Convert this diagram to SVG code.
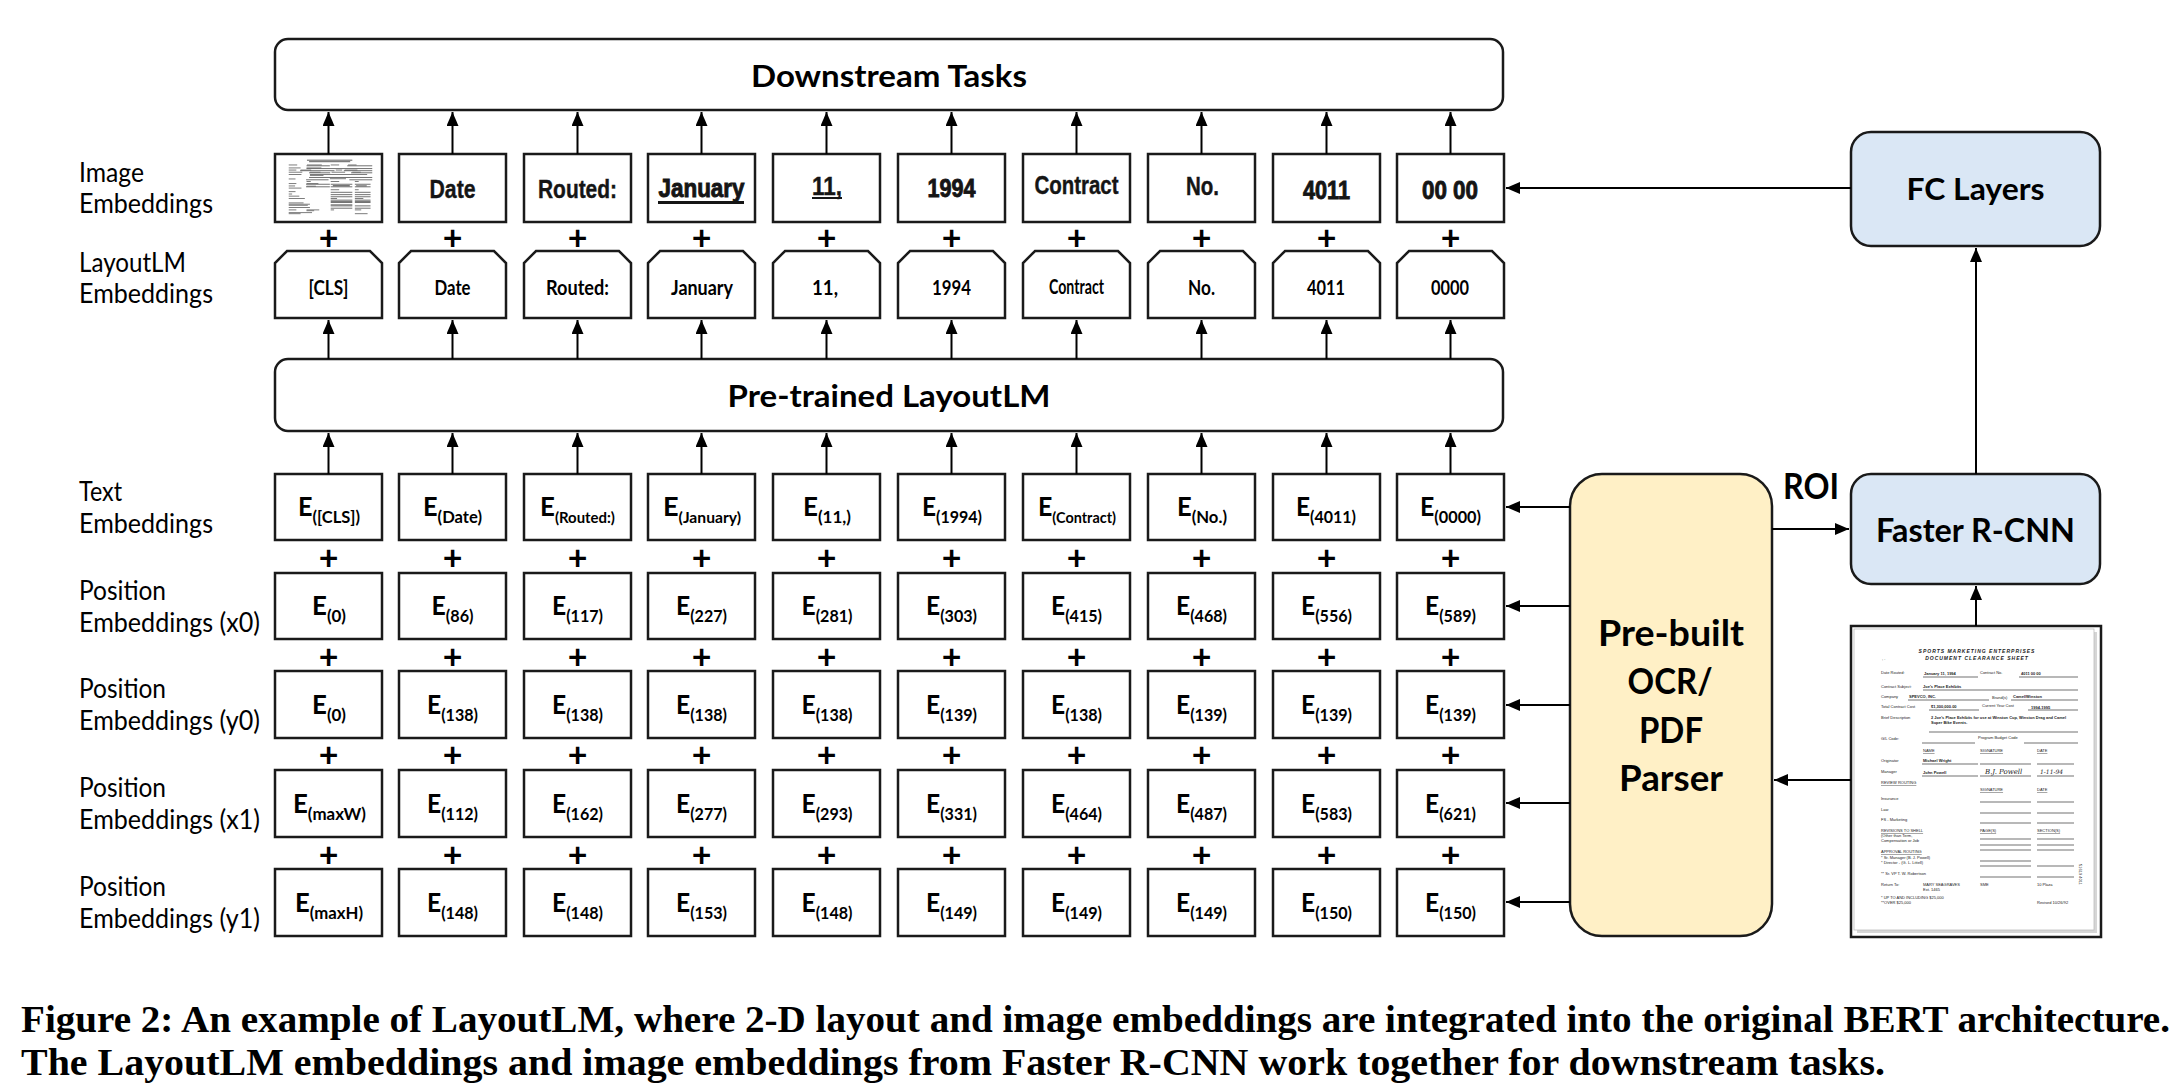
<svg xmlns="http://www.w3.org/2000/svg" xmlns:xlink="http://www.w3.org/1999/xlink" width="2178" height="1092" viewBox="0 0 2178 1092">
<defs>
<style>
.box{fill:#fff;stroke:#1a1a1a;stroke-width:2.5}
.rbox{stroke:#1a1a1a;stroke-width:2.5}
.lbl{font-family:Lato,'Open Sans',sans-serif;font-size:26px;fill:#000}
.big{font-family:Lato,'Open Sans',sans-serif;font-weight:700;fill:#000;text-anchor:middle}
.img{font-family:'Liberation Sans',Arial,sans-serif;font-weight:700;font-size:25px;fill:#151515;text-anchor:middle}
.hv{stroke:#151515;stroke-width:0.9}
.md{stroke:#151515;stroke-width:0.4}
.lm{font-family:Lato,'Open Sans',sans-serif;font-weight:700;font-size:20px;fill:#000;text-anchor:middle}
.e{font-family:Lato,'Open Sans',sans-serif;font-weight:700;font-size:26px;fill:#000;text-anchor:middle}
.s{font-size:17px}
.ss{font-size:15px}
.plus{font-family:Lato,'Open Sans',sans-serif;font-weight:700;font-size:34px;fill:#000;text-anchor:middle}
.cap{font-family:'Liberation Serif','Times New Roman',serif;font-weight:700;font-size:38px;fill:#000}
.con{stroke:#000;stroke-width:2;fill:none;marker-end:url(#ah)}
.d{font-family:'Liberation Sans',Arial,sans-serif;font-size:4px;fill:#222}
.dh{font-family:'Liberation Sans',Arial,sans-serif;font-size:5px;font-weight:700;font-style:italic;fill:#222;text-anchor:middle;letter-spacing:1px}
.dl{stroke:#333;stroke-width:0.7;vector-effect:non-scaling-stroke;fill:none}
.blob{fill:#666}
</style>
<marker id="ah" viewBox="0 0 14 12" refX="14" refY="6" markerWidth="14" markerHeight="12" markerUnits="userSpaceOnUse" orient="auto">
<path d="M0,0 L14,6 L0,12 z" fill="#000"/>
</marker>
<g id="docLines">
<path class="dl" d="M1923,677H1978M2019,677H2078M1923,690H2078M1908,700H1989M2011,700H2078M1929,710H1979M2028,710H2078M1929,732H2078M1922,743H1975M2024,743H2078M1922,764H1978M1980,764H2031M2037,764H2074M1922,776H1978M1980,776H2031M2037,776H2074M1980,802H2031M2037,802H2074M1980,813H2031M2037,813H2074M1980,823H2031M2037,823H2074M1980,839H2031M2037,839H2074M1980,845H2031M2037,845H2074M1980,850H2031M2037,850H2074M1980,861H2031M1980,866H2031M2037,866H2074M1980,877H2031M2037,877H2074"/>
</g>
<g id="docBlobs">
<rect class="blob" x="1924" y="648" width="107" height="5"/><rect class="blob" x="1929" y="655" width="97" height="5"/>
<rect class="blob" x="1881" y="671" width="20" height="4"/><rect class="blob" x="1924" y="671" width="35" height="4"/><rect class="blob" x="1980" y="671" width="20" height="4"/><rect class="blob" x="2021" y="671" width="20" height="4"/>
<rect class="blob" x="1881" y="685" width="28" height="4"/><rect class="blob" x="1923" y="685" width="35" height="4"/>
<rect class="blob" x="1881" y="695" width="18" height="4"/><rect class="blob" x="1909" y="695" width="25" height="4"/><rect class="blob" x="1992" y="695" width="15" height="4"/><rect class="blob" x="2013" y="695" width="30" height="4"/>
<rect class="blob" x="1881" y="705" width="32" height="4"/><rect class="blob" x="1931" y="705" width="25" height="4"/><rect class="blob" x="1982" y="705" width="32" height="4"/><rect class="blob" x="2031" y="705" width="20" height="4"/>
<rect class="blob" x="1881" y="716" width="30" height="4"/><rect class="blob" x="1931" y="716" width="135" height="4"/><rect class="blob" x="1931" y="720" width="32" height="4"/>
<rect class="blob" x="1881" y="737" width="16" height="4"/><rect class="blob" x="1978" y="736" width="38" height="4"/>
<rect class="blob" x="1923" y="749" width="10" height="4"/><rect class="blob" x="1980" y="749" width="20" height="4"/><rect class="blob" x="2037" y="749" width="9" height="4"/>
<rect class="blob" x="1881" y="759" width="18" height="4"/><rect class="blob" x="1923" y="759" width="28" height="4"/>
<rect class="blob" x="1881" y="770" width="15" height="4"/><rect class="blob" x="1923" y="771" width="22" height="4"/><rect class="blob" x="1985" y="768" width="40" height="6"/><rect class="blob" x="2040" y="769" width="25" height="5"/>
<rect class="blob" x="1881" y="780" width="30" height="4"/><rect class="blob" x="1980" y="788" width="20" height="4"/><rect class="blob" x="2037" y="788" width="9" height="4"/>
<rect class="blob" x="1881" y="797" width="16" height="4"/><rect class="blob" x="1881" y="808" width="8" height="4"/><rect class="blob" x="1881" y="818" width="25" height="4"/>
<rect class="blob" x="1881" y="829" width="38" height="4"/><rect class="blob" x="1980" y="829" width="15" height="4"/><rect class="blob" x="2037" y="829" width="20" height="4"/>
<rect class="blob" x="1881" y="850" width="35" height="4"/><rect class="blob" x="1881" y="856" width="50" height="4"/><rect class="blob" x="1881" y="861" width="45" height="4"/><rect class="blob" x="1881" y="872" width="50" height="4"/>
<rect class="blob" x="1881" y="883" width="18" height="4"/><rect class="blob" x="1923" y="883" width="30" height="4"/><rect class="blob" x="1923" y="887" width="18" height="4"/><rect class="blob" x="1980" y="883" width="8" height="4"/><rect class="blob" x="2037" y="883" width="15" height="4"/>
<rect class="blob" x="1881" y="896" width="55" height="4"/><rect class="blob" x="1881" y="901" width="28" height="4"/><rect class="blob" x="2037" y="901" width="30" height="4"/>
</g>
</defs>

<rect width="2178" height="1092" fill="#fff"/>

<g id="row-labels">
<text class="lbl" x="79" y="182" textLength="65" lengthAdjust="spacingAndGlyphs">Image</text>
<text class="lbl" x="79" y="213" textLength="134" lengthAdjust="spacingAndGlyphs">Embeddings</text>
<text class="lbl" x="79" y="272" textLength="107" lengthAdjust="spacingAndGlyphs">LayoutLM</text>
<text class="lbl" x="79" y="303" textLength="134" lengthAdjust="spacingAndGlyphs">Embeddings</text>
<text class="lbl" x="79" y="501" textLength="43" lengthAdjust="spacingAndGlyphs">Text</text>
<text class="lbl" x="79" y="533" textLength="134" lengthAdjust="spacingAndGlyphs">Embeddings</text>
<text class="lbl" x="79" y="600" textLength="87" lengthAdjust="spacingAndGlyphs">Position</text>
<text class="lbl" x="79" y="632" textLength="181" lengthAdjust="spacingAndGlyphs">Embeddings (x0)</text>
<text class="lbl" x="79" y="698" textLength="87" lengthAdjust="spacingAndGlyphs">Position</text>
<text class="lbl" x="79" y="730" textLength="181" lengthAdjust="spacingAndGlyphs">Embeddings (y0)</text>
<text class="lbl" x="79" y="797" textLength="87" lengthAdjust="spacingAndGlyphs">Position</text>
<text class="lbl" x="79" y="829" textLength="181" lengthAdjust="spacingAndGlyphs">Embeddings (x1)</text>
<text class="lbl" x="79" y="896" textLength="87" lengthAdjust="spacingAndGlyphs">Position</text>
<text class="lbl" x="79" y="928" textLength="181" lengthAdjust="spacingAndGlyphs">Embeddings (y1)</text>
</g>

<g id="downstream-tasks">
<rect class="box" x="275" y="39" width="1228" height="71" rx="13"/>
<text class="big" x="889" y="87" font-size="31" textLength="276" lengthAdjust="spacingAndGlyphs">Downstream Tasks</text>
</g>

<g id="pretrained-layoutlm">
<rect class="box" x="275" y="359" width="1228" height="72" rx="13"/>
<text class="big" x="889" y="407" font-size="31" textLength="323" lengthAdjust="spacingAndGlyphs">Pre-trained LayoutLM</text>
</g>

<!-- Image embeddings -->
<g id="img-0">
<rect class="box" x="275" y="154" width="107" height="68"/>
<use xlink:href="#docLines" href="#docLines" transform="translate(276,155) scale(0.424,0.212) translate(-1851,-626)"/>
<use xlink:href="#docBlobs" href="#docBlobs" transform="translate(276,155) scale(0.424,0.212) translate(-1851,-626)"/>
</g>
<g id="img-1"><rect class="box" x="399" y="154" width="107" height="68"/><text class="img md" x="452.5" y="198" textLength="46" lengthAdjust="spacingAndGlyphs">Date</text></g>
<g id="img-2"><rect class="box" x="524" y="154" width="107" height="68"/><text class="img md" x="577.5" y="198" textLength="79" lengthAdjust="spacingAndGlyphs">Routed:</text></g>
<g id="img-3"><rect class="box" x="648" y="154" width="107" height="68"/><text class="img hv" x="701.5" y="197" textLength="86" lengthAdjust="spacingAndGlyphs">January</text><rect x="658" y="201" width="86" height="3" fill="#151515"/></g>
<g id="img-4"><rect class="box" x="773" y="154" width="107" height="68"/><text class="img md" x="827" y="195" textLength="30" lengthAdjust="spacingAndGlyphs">11,</text><rect x="812" y="197" width="30" height="2" fill="#151515"/></g>
<g id="img-5"><rect class="box" x="898" y="154" width="107" height="68"/><text class="img hv" x="951.5" y="197" textLength="48" lengthAdjust="spacingAndGlyphs">1994</text></g>
<g id="img-6"><rect class="box" x="1023" y="154" width="107" height="68"/><text class="img md" x="1076.5" y="194" textLength="84" lengthAdjust="spacingAndGlyphs">Contract</text></g>
<g id="img-7"><rect class="box" x="1148" y="154" width="107" height="68"/><text class="img md" x="1202.5" y="195" textLength="33" lengthAdjust="spacingAndGlyphs">No.</text></g>
<g id="img-8"><rect class="box" x="1273" y="154" width="107" height="68"/><text class="img hv" x="1326.5" y="199" textLength="47" lengthAdjust="spacingAndGlyphs">4011</text></g>
<g id="img-9"><rect class="box" x="1397" y="154" width="107" height="68"/><text class="img hv" x="1450" y="199" textLength="56" lengthAdjust="spacingAndGlyphs">00 00</text></g>

<!-- LayoutLM embeddings -->
<g id="lm-0"><path class="box" d="M275,318V263L287,251H370L382,263V318Z"/><text class="lm" x="328.5" y="295" textLength="40" lengthAdjust="spacingAndGlyphs">[CLS]</text></g>
<g id="lm-1"><path class="box" d="M399,318V263L411,251H494L506,263V318Z"/><text class="lm" x="452.5" y="295" textLength="36" lengthAdjust="spacingAndGlyphs">Date</text></g>
<g id="lm-2"><path class="box" d="M524,318V263L536,251H619L631,263V318Z"/><text class="lm" x="577.5" y="295" textLength="63" lengthAdjust="spacingAndGlyphs">Routed:</text></g>
<g id="lm-3"><path class="box" d="M648,318V263L660,251H743L755,263V318Z"/><text class="lm" x="702" y="295" textLength="62" lengthAdjust="spacingAndGlyphs">January</text></g>
<g id="lm-4"><path class="box" d="M773,318V263L785,251H868L880,263V318Z"/><text class="lm" x="825" y="295" textLength="26" lengthAdjust="spacingAndGlyphs">11,</text></g>
<g id="lm-5"><path class="box" d="M898,318V263L910,251H993L1005,263V318Z"/><text class="lm" x="951.5" y="295" textLength="39" lengthAdjust="spacingAndGlyphs">1994</text></g>
<g id="lm-6"><path class="box" d="M1023,318V263L1035,251H1118L1130,263V318Z"/><text class="lm" x="1076.5" y="294" font-size="16" textLength="55" lengthAdjust="spacingAndGlyphs">Contract</text></g>
<g id="lm-7"><path class="box" d="M1148,318V263L1160,251H1243L1255,263V318Z"/><text class="lm" x="1201.5" y="295" textLength="27" lengthAdjust="spacingAndGlyphs">No.</text></g>
<g id="lm-8"><path class="box" d="M1273,318V263L1285,251H1368L1380,263V318Z"/><text class="lm" x="1326" y="295" textLength="38" lengthAdjust="spacingAndGlyphs">4011</text></g>
<g id="lm-9"><path class="box" d="M1397,318V263L1409,251H1492L1504,263V318Z"/><text class="lm" x="1450" y="295" textLength="38" lengthAdjust="spacingAndGlyphs">0000</text></g>

<!-- Text embeddings -->
<g id="txt-0"><rect class="box" x="275" y="474" width="107" height="66"/><text class="e" x="329" y="516" textLength="62" lengthAdjust="spacingAndGlyphs">E<tspan class="s" dy="7">([CLS])</tspan></text></g>
<g id="txt-1"><rect class="box" x="399" y="474" width="107" height="66"/><text class="e" x="452.5" y="516" textLength="59" lengthAdjust="spacingAndGlyphs">E<tspan class="s" dy="7">(Date)</tspan></text></g>
<g id="txt-2"><rect class="box" x="524" y="474" width="107" height="66"/><text class="e" x="577.5" y="516" textLength="75" lengthAdjust="spacingAndGlyphs">E<tspan class="ss" dy="7">(Routed:)</tspan></text></g>
<g id="txt-3"><rect class="box" x="648" y="474" width="107" height="66"/><text class="e" x="702" y="516" textLength="78" lengthAdjust="spacingAndGlyphs">E<tspan class="ss" dy="7">(January)</tspan></text></g>
<g id="txt-4"><rect class="box" x="773" y="474" width="107" height="66"/><text class="e" x="827" y="516" textLength="48" lengthAdjust="spacingAndGlyphs">E<tspan class="s" dy="7">(11,)</tspan></text></g>
<g id="txt-5"><rect class="box" x="898" y="474" width="107" height="66"/><text class="e" x="952" y="516" textLength="60" lengthAdjust="spacingAndGlyphs">E<tspan class="s" dy="7">(1994)</tspan></text></g>
<g id="txt-6"><rect class="box" x="1023" y="474" width="107" height="66"/><text class="e" x="1077" y="516" textLength="78" lengthAdjust="spacingAndGlyphs">E<tspan class="ss" dy="7">(Contract)</tspan></text></g>
<g id="txt-7"><rect class="box" x="1148" y="474" width="107" height="66"/><text class="e" x="1202" y="516" textLength="50" lengthAdjust="spacingAndGlyphs">E<tspan class="s" dy="7">(No.)</tspan></text></g>
<g id="txt-8"><rect class="box" x="1273" y="474" width="107" height="66"/><text class="e" x="1326" y="516" textLength="60" lengthAdjust="spacingAndGlyphs">E<tspan class="s" dy="7">(4011)</tspan></text></g>
<g id="txt-9"><rect class="box" x="1397" y="474" width="107" height="66"/><text class="e" x="1450.5" y="516" textLength="61" lengthAdjust="spacingAndGlyphs">E<tspan class="s" dy="7">(0000)</tspan></text></g>

<!-- Position embeddings x0 -->
<g id="x0-0"><rect class="box" x="275" y="573" width="107" height="66"/><text class="e" x="329" y="615" textLength="34" lengthAdjust="spacingAndGlyphs">E<tspan class="s" dy="7">(0)</tspan></text></g>
<g id="x0-1"><rect class="box" x="399" y="573" width="107" height="66"/><text class="e" x="452.5" y="615" textLength="42" lengthAdjust="spacingAndGlyphs">E<tspan class="s" dy="7">(86)</tspan></text></g>
<g id="x0-2"><rect class="box" x="524" y="573" width="107" height="66"/><text class="e" x="577.5" y="615" textLength="51" lengthAdjust="spacingAndGlyphs">E<tspan class="s" dy="7">(117)</tspan></text></g>
<g id="x0-3"><rect class="box" x="648" y="573" width="107" height="66"/><text class="e" x="701.5" y="615" textLength="51" lengthAdjust="spacingAndGlyphs">E<tspan class="s" dy="7">(227)</tspan></text></g>
<g id="x0-4"><rect class="box" x="773" y="573" width="107" height="66"/><text class="e" x="827" y="615" textLength="51" lengthAdjust="spacingAndGlyphs">E<tspan class="s" dy="7">(281)</tspan></text></g>
<g id="x0-5"><rect class="box" x="898" y="573" width="107" height="66"/><text class="e" x="951.5" y="615" textLength="51" lengthAdjust="spacingAndGlyphs">E<tspan class="s" dy="7">(303)</tspan></text></g>
<g id="x0-6"><rect class="box" x="1023" y="573" width="107" height="66"/><text class="e" x="1076.5" y="615" textLength="51" lengthAdjust="spacingAndGlyphs">E<tspan class="s" dy="7">(415)</tspan></text></g>
<g id="x0-7"><rect class="box" x="1148" y="573" width="107" height="66"/><text class="e" x="1201.5" y="615" textLength="51" lengthAdjust="spacingAndGlyphs">E<tspan class="s" dy="7">(468)</tspan></text></g>
<g id="x0-8"><rect class="box" x="1273" y="573" width="107" height="66"/><text class="e" x="1326.5" y="615" textLength="51" lengthAdjust="spacingAndGlyphs">E<tspan class="s" dy="7">(556)</tspan></text></g>
<g id="x0-9"><rect class="box" x="1397" y="573" width="107" height="66"/><text class="e" x="1450.5" y="615" textLength="51" lengthAdjust="spacingAndGlyphs">E<tspan class="s" dy="7">(589)</tspan></text></g>

<!-- Position embeddings y0 -->
<g id="y0-0"><rect class="box" x="275" y="671" width="107" height="67"/><text class="e" x="329" y="714" textLength="34" lengthAdjust="spacingAndGlyphs">E<tspan class="s" dy="7">(0)</tspan></text></g>
<g id="y0-1"><rect class="box" x="399" y="671" width="107" height="67"/><text class="e" x="452.5" y="714" textLength="51" lengthAdjust="spacingAndGlyphs">E<tspan class="s" dy="7">(138)</tspan></text></g>
<g id="y0-2"><rect class="box" x="524" y="671" width="107" height="67"/><text class="e" x="577.5" y="714" textLength="51" lengthAdjust="spacingAndGlyphs">E<tspan class="s" dy="7">(138)</tspan></text></g>
<g id="y0-3"><rect class="box" x="648" y="671" width="107" height="67"/><text class="e" x="701.5" y="714" textLength="51" lengthAdjust="spacingAndGlyphs">E<tspan class="s" dy="7">(138)</tspan></text></g>
<g id="y0-4"><rect class="box" x="773" y="671" width="107" height="67"/><text class="e" x="827" y="714" textLength="51" lengthAdjust="spacingAndGlyphs">E<tspan class="s" dy="7">(138)</tspan></text></g>
<g id="y0-5"><rect class="box" x="898" y="671" width="107" height="67"/><text class="e" x="951.5" y="714" textLength="51" lengthAdjust="spacingAndGlyphs">E<tspan class="s" dy="7">(139)</tspan></text></g>
<g id="y0-6"><rect class="box" x="1023" y="671" width="107" height="67"/><text class="e" x="1076.5" y="714" textLength="51" lengthAdjust="spacingAndGlyphs">E<tspan class="s" dy="7">(138)</tspan></text></g>
<g id="y0-7"><rect class="box" x="1148" y="671" width="107" height="67"/><text class="e" x="1201.5" y="714" textLength="51" lengthAdjust="spacingAndGlyphs">E<tspan class="s" dy="7">(139)</tspan></text></g>
<g id="y0-8"><rect class="box" x="1273" y="671" width="107" height="67"/><text class="e" x="1326.5" y="714" textLength="51" lengthAdjust="spacingAndGlyphs">E<tspan class="s" dy="7">(139)</tspan></text></g>
<g id="y0-9"><rect class="box" x="1397" y="671" width="107" height="67"/><text class="e" x="1450.5" y="714" textLength="51" lengthAdjust="spacingAndGlyphs">E<tspan class="s" dy="7">(139)</tspan></text></g>

<!-- Position embeddings x1 -->
<g id="x1-0"><rect class="box" x="275" y="770" width="107" height="67"/><text class="e" x="329.5" y="813" textLength="73" lengthAdjust="spacingAndGlyphs">E<tspan class="s" dy="7">(maxW)</tspan></text></g>
<g id="x1-1"><rect class="box" x="399" y="770" width="107" height="67"/><text class="e" x="452.5" y="813" textLength="51" lengthAdjust="spacingAndGlyphs">E<tspan class="s" dy="7">(112)</tspan></text></g>
<g id="x1-2"><rect class="box" x="524" y="770" width="107" height="67"/><text class="e" x="577.5" y="813" textLength="51" lengthAdjust="spacingAndGlyphs">E<tspan class="s" dy="7">(162)</tspan></text></g>
<g id="x1-3"><rect class="box" x="648" y="770" width="107" height="67"/><text class="e" x="701.5" y="813" textLength="51" lengthAdjust="spacingAndGlyphs">E<tspan class="s" dy="7">(277)</tspan></text></g>
<g id="x1-4"><rect class="box" x="773" y="770" width="107" height="67"/><text class="e" x="827" y="813" textLength="51" lengthAdjust="spacingAndGlyphs">E<tspan class="s" dy="7">(293)</tspan></text></g>
<g id="x1-5"><rect class="box" x="898" y="770" width="107" height="67"/><text class="e" x="951.5" y="813" textLength="51" lengthAdjust="spacingAndGlyphs">E<tspan class="s" dy="7">(331)</tspan></text></g>
<g id="x1-6"><rect class="box" x="1023" y="770" width="107" height="67"/><text class="e" x="1076.5" y="813" textLength="51" lengthAdjust="spacingAndGlyphs">E<tspan class="s" dy="7">(464)</tspan></text></g>
<g id="x1-7"><rect class="box" x="1148" y="770" width="107" height="67"/><text class="e" x="1201.5" y="813" textLength="51" lengthAdjust="spacingAndGlyphs">E<tspan class="s" dy="7">(487)</tspan></text></g>
<g id="x1-8"><rect class="box" x="1273" y="770" width="107" height="67"/><text class="e" x="1326.5" y="813" textLength="51" lengthAdjust="spacingAndGlyphs">E<tspan class="s" dy="7">(583)</tspan></text></g>
<g id="x1-9"><rect class="box" x="1397" y="770" width="107" height="67"/><text class="e" x="1450.5" y="813" textLength="51" lengthAdjust="spacingAndGlyphs">E<tspan class="s" dy="7">(621)</tspan></text></g>

<!-- Position embeddings y1 -->
<g id="y1-0"><rect class="box" x="275" y="869" width="107" height="67"/><text class="e" x="329" y="912" textLength="68" lengthAdjust="spacingAndGlyphs">E<tspan class="s" dy="7">(maxH)</tspan></text></g>
<g id="y1-1"><rect class="box" x="399" y="869" width="107" height="67"/><text class="e" x="452.5" y="912" textLength="51" lengthAdjust="spacingAndGlyphs">E<tspan class="s" dy="7">(148)</tspan></text></g>
<g id="y1-2"><rect class="box" x="524" y="869" width="107" height="67"/><text class="e" x="577.5" y="912" textLength="51" lengthAdjust="spacingAndGlyphs">E<tspan class="s" dy="7">(148)</tspan></text></g>
<g id="y1-3"><rect class="box" x="648" y="869" width="107" height="67"/><text class="e" x="701.5" y="912" textLength="51" lengthAdjust="spacingAndGlyphs">E<tspan class="s" dy="7">(153)</tspan></text></g>
<g id="y1-4"><rect class="box" x="773" y="869" width="107" height="67"/><text class="e" x="827" y="912" textLength="51" lengthAdjust="spacingAndGlyphs">E<tspan class="s" dy="7">(148)</tspan></text></g>
<g id="y1-5"><rect class="box" x="898" y="869" width="107" height="67"/><text class="e" x="951.5" y="912" textLength="51" lengthAdjust="spacingAndGlyphs">E<tspan class="s" dy="7">(149)</tspan></text></g>
<g id="y1-6"><rect class="box" x="1023" y="869" width="107" height="67"/><text class="e" x="1076.5" y="912" textLength="51" lengthAdjust="spacingAndGlyphs">E<tspan class="s" dy="7">(149)</tspan></text></g>
<g id="y1-7"><rect class="box" x="1148" y="869" width="107" height="67"/><text class="e" x="1201.5" y="912" textLength="51" lengthAdjust="spacingAndGlyphs">E<tspan class="s" dy="7">(149)</tspan></text></g>
<g id="y1-8"><rect class="box" x="1273" y="869" width="107" height="67"/><text class="e" x="1326.5" y="912" textLength="51" lengthAdjust="spacingAndGlyphs">E<tspan class="s" dy="7">(150)</tspan></text></g>
<g id="y1-9"><rect class="box" x="1397" y="869" width="107" height="67"/><text class="e" x="1450.5" y="912" textLength="51" lengthAdjust="spacingAndGlyphs">E<tspan class="s" dy="7">(150)</tspan></text></g>

<g id="plus-signs">
<text class="plus" x="328.5" y="250">+</text><text class="plus" x="452.5" y="250">+</text><text class="plus" x="577.5" y="250">+</text><text class="plus" x="701.5" y="250">+</text><text class="plus" x="826.5" y="250">+</text><text class="plus" x="951.5" y="250">+</text><text class="plus" x="1076.5" y="250">+</text><text class="plus" x="1201.5" y="250">+</text><text class="plus" x="1326.5" y="250">+</text><text class="plus" x="1450.5" y="250">+</text>
<text class="plus" x="328.5" y="570">+</text><text class="plus" x="452.5" y="570">+</text><text class="plus" x="577.5" y="570">+</text><text class="plus" x="701.5" y="570">+</text><text class="plus" x="826.5" y="570">+</text><text class="plus" x="951.5" y="570">+</text><text class="plus" x="1076.5" y="570">+</text><text class="plus" x="1201.5" y="570">+</text><text class="plus" x="1326.5" y="570">+</text><text class="plus" x="1450.5" y="570">+</text>
<text class="plus" x="328.5" y="669">+</text><text class="plus" x="452.5" y="669">+</text><text class="plus" x="577.5" y="669">+</text><text class="plus" x="701.5" y="669">+</text><text class="plus" x="826.5" y="669">+</text><text class="plus" x="951.5" y="669">+</text><text class="plus" x="1076.5" y="669">+</text><text class="plus" x="1201.5" y="669">+</text><text class="plus" x="1326.5" y="669">+</text><text class="plus" x="1450.5" y="669">+</text>
<text class="plus" x="328.5" y="767">+</text><text class="plus" x="452.5" y="767">+</text><text class="plus" x="577.5" y="767">+</text><text class="plus" x="701.5" y="767">+</text><text class="plus" x="826.5" y="767">+</text><text class="plus" x="951.5" y="767">+</text><text class="plus" x="1076.5" y="767">+</text><text class="plus" x="1201.5" y="767">+</text><text class="plus" x="1326.5" y="767">+</text><text class="plus" x="1450.5" y="767">+</text>
<text class="plus" x="328.5" y="867">+</text><text class="plus" x="452.5" y="867">+</text><text class="plus" x="577.5" y="867">+</text><text class="plus" x="701.5" y="867">+</text><text class="plus" x="826.5" y="867">+</text><text class="plus" x="951.5" y="867">+</text><text class="plus" x="1076.5" y="867">+</text><text class="plus" x="1201.5" y="867">+</text><text class="plus" x="1326.5" y="867">+</text><text class="plus" x="1450.5" y="867">+</text>
</g>

<g id="fc-layers">
<rect class="rbox" x="1851" y="132" width="249" height="114" rx="20" fill="#dae7f5"/>
<text class="big" x="1975.5" y="200" font-size="30" textLength="138" lengthAdjust="spacingAndGlyphs">FC Layers</text>
</g>
<g id="faster-rcnn">
<rect class="rbox" x="1851" y="474" width="249" height="110" rx="20" fill="#dae7f5"/>
<text class="big" x="1975.5" y="542" font-size="32" textLength="199" lengthAdjust="spacingAndGlyphs">Faster R-CNN</text>
</g>
<g id="ocr-parser">
<rect class="rbox" x="1570" y="474" width="202" height="462" rx="32" fill="#fff0c6"/>
<text class="big" x="1671" y="646" font-size="37" textLength="146" lengthAdjust="spacingAndGlyphs">Pre-built</text>
<text class="big" x="1670" y="694" font-size="37" textLength="85" lengthAdjust="spacingAndGlyphs">OCR/</text>
<text class="big" x="1671" y="743" font-size="37" textLength="64" lengthAdjust="spacingAndGlyphs">PDF</text>
<text class="big" x="1671" y="791" font-size="37" textLength="104" lengthAdjust="spacingAndGlyphs">Parser</text>
</g>

<g id="document-image">
<rect x="1851" y="626" width="250" height="311" fill="#fff" stroke="#1a1a1a" stroke-width="2.5"/>
<rect x="1857" y="632" width="240" height="301" fill="#d6d6d6"/>
<rect x="1854" y="629" width="240" height="301" fill="#fff" stroke="#bdbdbd" stroke-width="0.8"/>
<use xlink:href="#docLines" href="#docLines"/>
<text class="dh" x="1977" y="653">SPORTS MARKETING ENTERPRISES</text>
<text class="dh" x="1977" y="660">DOCUMENT CLEARANCE SHEET</text>
<text class="d" x="1882" y="660">,    .</text>
<text class="d" x="1881" y="674">Date Routed:</text>
<text class="d" x="1924" y="675" font-weight="700">January 11, 1994</text>
<text class="d" x="1980" y="674">Contract No.</text>
<text class="d" x="2021" y="675" font-weight="700">4011 00 00</text>
<text class="d" x="1881" y="688">Contract Subject:</text>
<text class="d" x="1923" y="688" font-weight="700">Joe's Place Exhibits</text>
<text class="d" x="1881" y="698">Company</text>
<text class="d" x="1909" y="698" font-weight="700">SPEVCO, INC.</text>
<text class="d" x="1992" y="699">Brand(s)</text>
<text class="d" x="2013" y="698" font-weight="700">Camel/Winston</text>
<text class="d" x="1881" y="708">Total Contract Cost</text>
<text class="d" x="1931" y="708" font-weight="700">$1,300,000.00</text>
<text class="d" x="1982" y="707">Current Year Cost</text>
<text class="d" x="2031" y="709" font-weight="700">1994-1995</text>
<text class="d" x="1881" y="719">Brief Description</text>
<text class="d" x="1931" y="719" font-weight="700" textLength="135" lengthAdjust="spacingAndGlyphs">2 Joe's Place Exhibits for use at Winston Cup, Winston Drag and Camel</text>
<text class="d" x="1931" y="723.5" font-weight="700">Super Bike Events.</text>
<text class="d" x="1881" y="740">G/L Code:</text>
<text class="d" x="1978" y="739">Program Budget Code</text>
<text class="d" x="1923" y="752" text-decoration="underline">NAME</text>
<text class="d" x="1980" y="752" text-decoration="underline">SIGNATURE</text>
<text class="d" x="2037" y="752" text-decoration="underline">DATE</text>
<text class="d" x="1881" y="762">Originator</text>
<text class="d" x="1923" y="762" font-weight="700">Michael Wright</text>
<text class="d" x="1881" y="773">Manager</text>
<text class="d" x="1923" y="774" font-weight="700">John Powell</text>
<text x="1985" y="774" font-family="'DejaVu Serif',serif" font-style="italic" font-size="7" fill="#222">B.J. Powell</text>
<text x="2040" y="774" font-family="'DejaVu Serif',serif" font-style="italic" font-size="6" fill="#222">1-11-94</text>
<text class="d" x="1881" y="784" text-decoration="underline">REVIEW ROUTING</text>
<text class="d" x="1980" y="791" text-decoration="underline">SIGNATURE</text>
<text class="d" x="2037" y="791" text-decoration="underline">DATE</text>
<text class="d" x="1881" y="800">Insurance</text>
<text class="d" x="1881" y="811">Law</text>
<text class="d" x="1881" y="821">FS - Marketing</text>
<text class="d" x="1881" y="832" text-decoration="underline">REVISIONS TO SHELL</text>
<text class="d" x="1980" y="832" text-decoration="underline">PAGE(S)</text>
<text class="d" x="2037" y="832" text-decoration="underline">SECTION(S)</text>
<text class="d" x="1881" y="837" font-size="3">(Other than Term,</text>
<text class="d" x="1881" y="842" font-size="3">Compensation or Job</text>
<text class="d" x="1881" y="853" text-decoration="underline">APPROVAL ROUTING</text>
<text class="d" x="1881" y="859">* Sr. Manager (B. J. Powell)</text>
<text class="d" x="1881" y="864">*  Director - (G. L. Littell)</text>
<text class="d" x="1881" y="875">** Sr. VP     T. W. Robertson</text>
<text class="d" x="1881" y="886">Return To:</text>
<text class="d" x="1923" y="886">MARY SEAGRAVES</text>
<text class="d" x="1923" y="891">Ext. 1465</text>
<text class="d" x="1980" y="886">SME</text>
<text class="d" x="2037" y="886">10 Plaza</text>
<text class="d" x="1881" y="899">* UP TO AND INCLUDING $25,000</text>
<text class="d" x="1881" y="904">**OVER $25,000</text>
<text class="d" x="2037" y="904">Revised 10/26/92</text>
<text class="d" x="2079" y="864" transform="rotate(90 2079 864)" font-size="3.5">51619 4011</text>
</g>

<g id="roi-label">
<text class="big" x="1811" y="499" font-size="37" textLength="56" lengthAdjust="spacingAndGlyphs">ROI</text>
</g>

<g id="connectors">
<path class="con" d="M328.5,154V112"/><path class="con" d="M452.5,154V112"/><path class="con" d="M577.5,154V112"/><path class="con" d="M701.5,154V112"/><path class="con" d="M826.5,154V112"/><path class="con" d="M951.5,154V112"/><path class="con" d="M1076.5,154V112"/><path class="con" d="M1201.5,154V112"/><path class="con" d="M1326.5,154V112"/><path class="con" d="M1450.5,154V112"/>
<path class="con" d="M328.5,359V320"/><path class="con" d="M452.5,359V320"/><path class="con" d="M577.5,359V320"/><path class="con" d="M701.5,359V320"/><path class="con" d="M826.5,359V320"/><path class="con" d="M951.5,359V320"/><path class="con" d="M1076.5,359V320"/><path class="con" d="M1201.5,359V320"/><path class="con" d="M1326.5,359V320"/><path class="con" d="M1450.5,359V320"/>
<path class="con" d="M328.5,474V433"/><path class="con" d="M452.5,474V433"/><path class="con" d="M577.5,474V433"/><path class="con" d="M701.5,474V433"/><path class="con" d="M826.5,474V433"/><path class="con" d="M951.5,474V433"/><path class="con" d="M1076.5,474V433"/><path class="con" d="M1201.5,474V433"/><path class="con" d="M1326.5,474V433"/><path class="con" d="M1450.5,474V433"/>
<path class="con" d="M1570,507H1506"/><path class="con" d="M1570,606H1506"/><path class="con" d="M1570,705H1506"/><path class="con" d="M1570,803H1506"/><path class="con" d="M1570,902H1506"/>
<path class="con" d="M1851,188H1506"/>
<path class="con" d="M1772,529H1849"/>
<path class="con" d="M1976,474V248"/>
<path class="con" d="M1976,626V586"/>
<path class="con" d="M1851,780H1774"/>
</g>

<g id="caption">
<text class="cap" x="21" y="1032" textLength="2149" lengthAdjust="spacingAndGlyphs">Figure 2: An example of LayoutLM, where 2-D layout and image embeddings are integrated into the original BERT architecture.</text>
<text class="cap" x="21" y="1075" textLength="1864" lengthAdjust="spacingAndGlyphs">The LayoutLM embeddings and image embeddings from Faster R-CNN work together for downstream tasks.</text>
</g>
</svg>
